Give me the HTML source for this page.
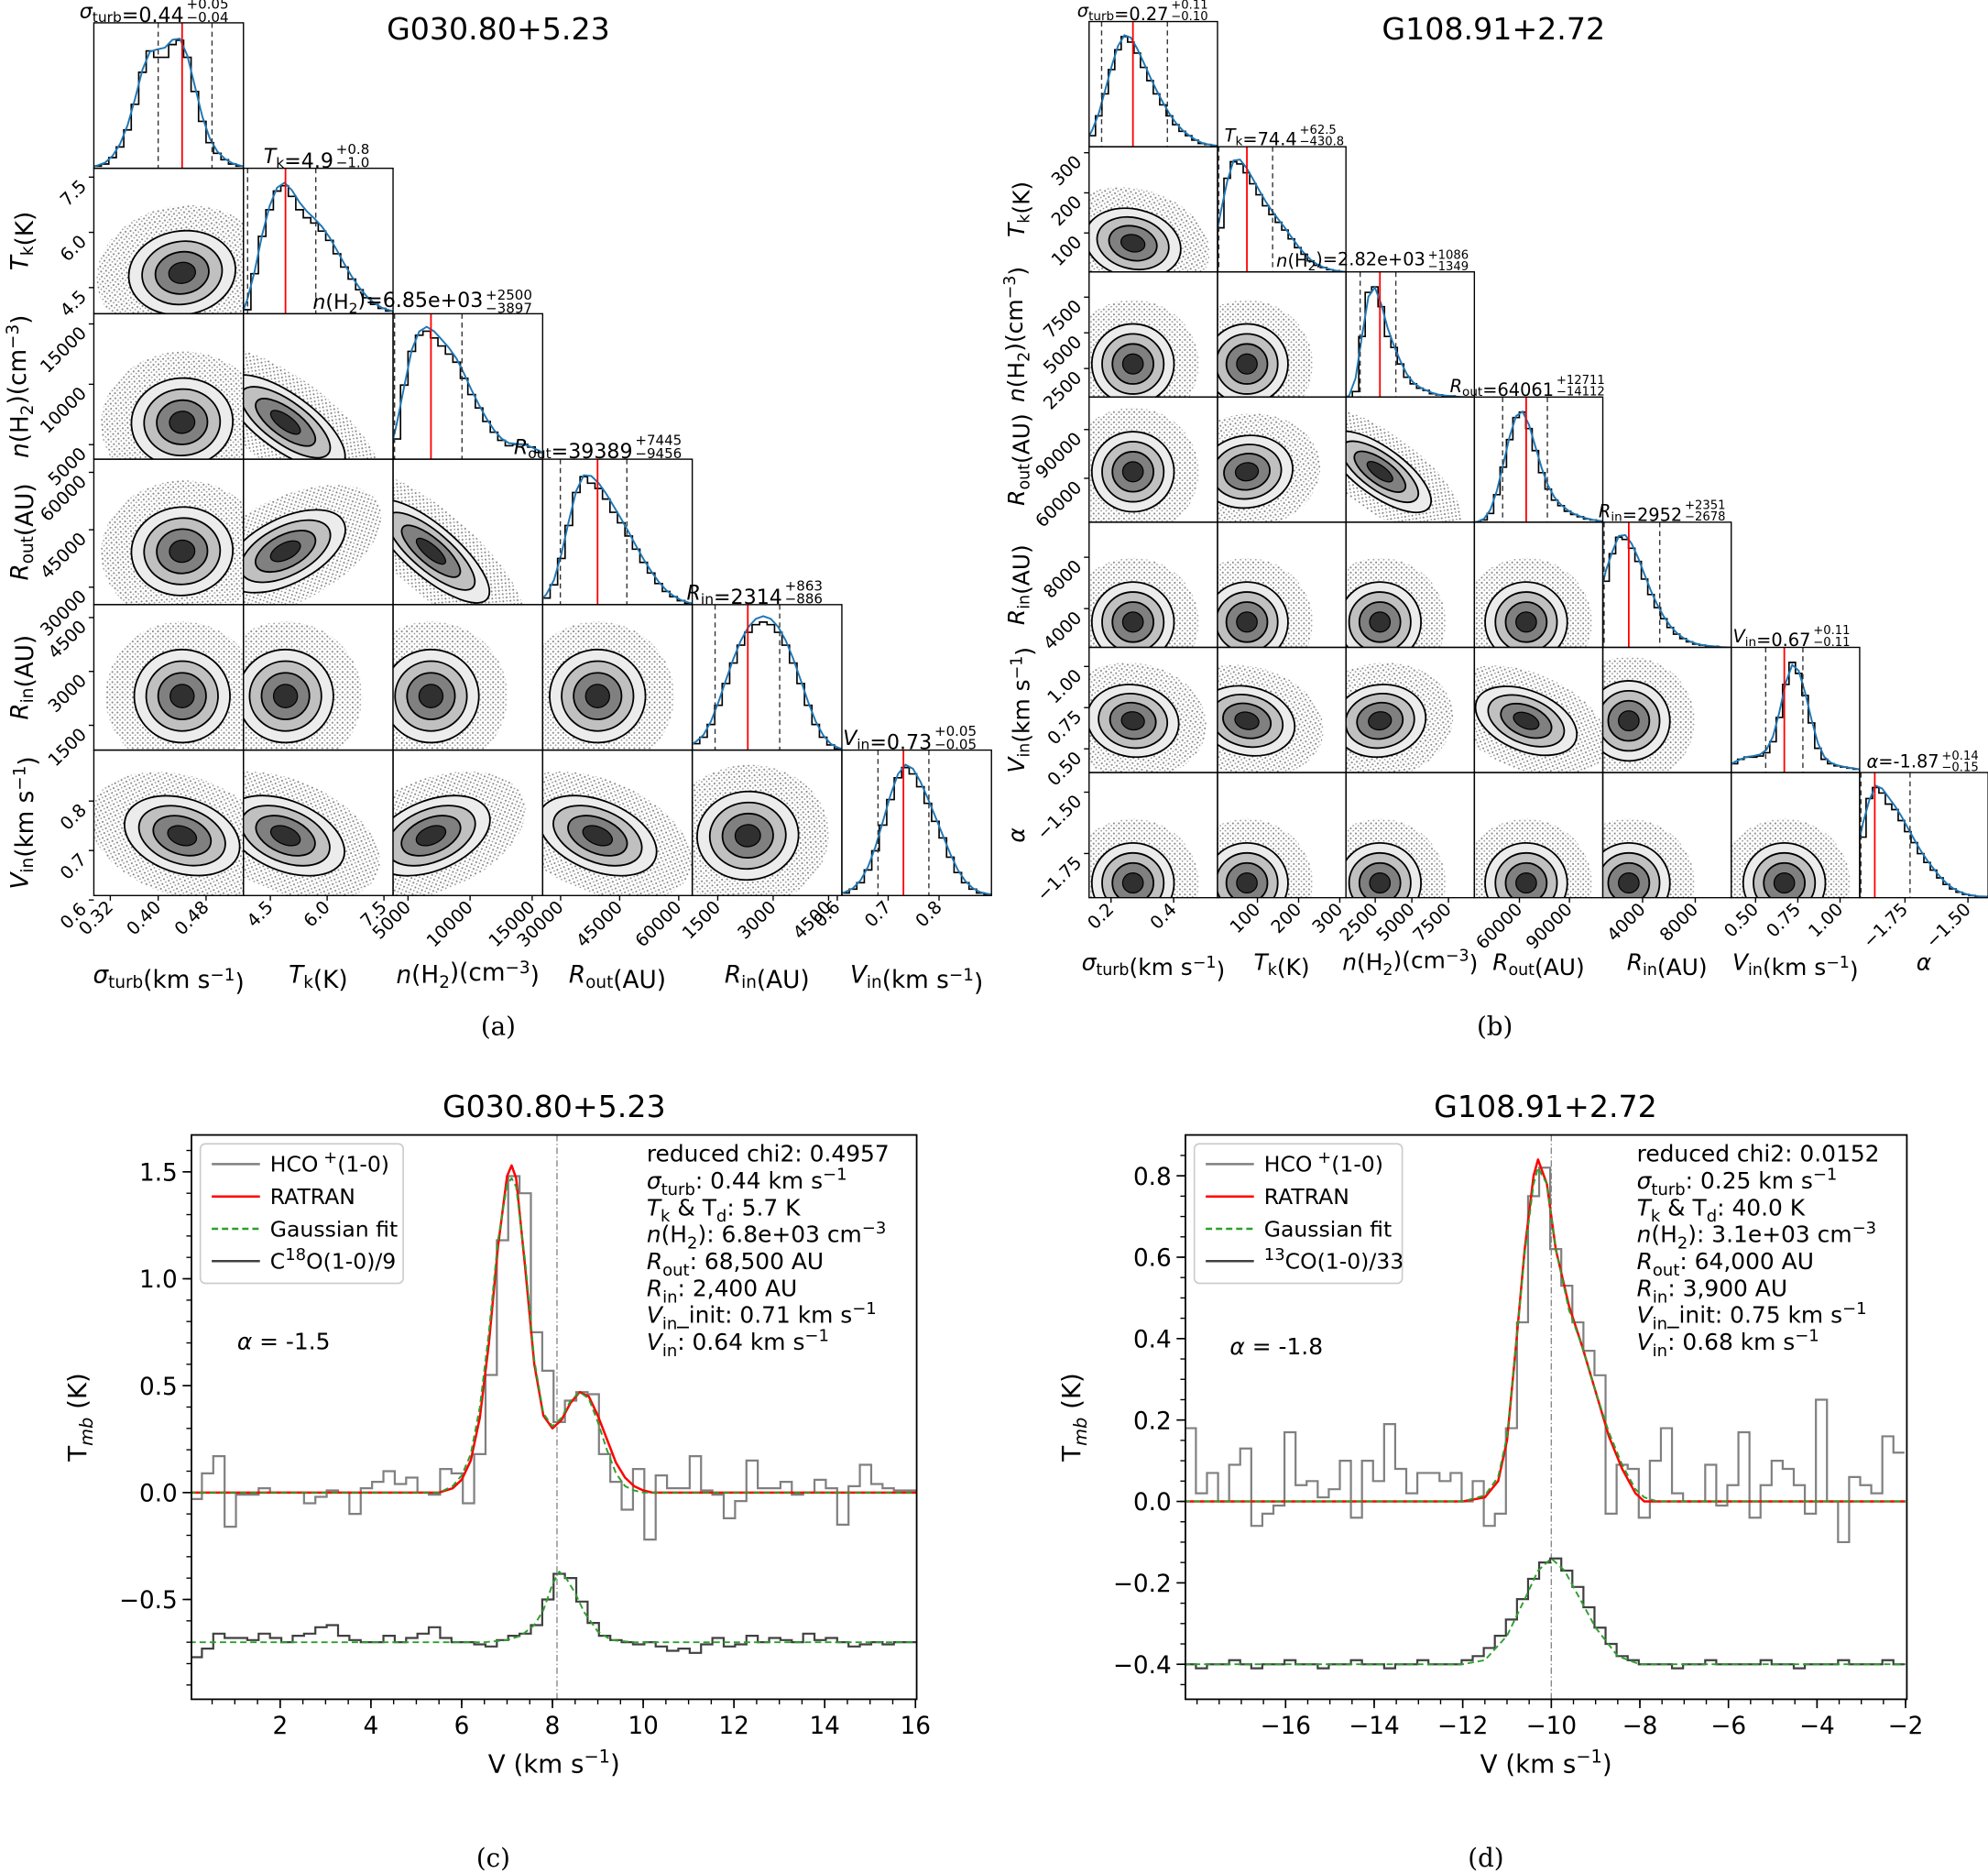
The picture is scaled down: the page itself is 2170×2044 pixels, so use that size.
<!DOCTYPE html>
<html><head><meta charset="utf-8"><title>Corner plots and spectra</title>
<style>
html,body{margin:0;padding:0;background:#fff}
svg{display:block}
text{font-family:"DejaVu Sans","Liberation Sans",sans-serif;fill:#000}
.serif{font-family:"DejaVu Serif","Liberation Serif",serif}
</style></head>
<body>
<svg id="fig" xmlns="http://www.w3.org/2000/svg" width="2170" height="2044" viewBox="0 0 1568 1477">
<defs>
<pattern id="dots" width="4" height="4" patternUnits="userSpaceOnUse"><circle cx="1" cy="1" r="0.75" fill="#333"/><circle cx="3" cy="2.8" r="0.65" fill="#555"/></pattern>
</defs>
<rect width="1568" height="1477" fill="#fff"/>
<text x="393" y="31" font-size="24" text-anchor="middle">G030.80+5.23</text>
<text x="1178" y="31" font-size="24" text-anchor="middle">G108.91+2.72</text>
<text x="393" y="816" font-size="20" text-anchor="middle" class="serif">(a)</text>
<text x="1179" y="816" font-size="20" text-anchor="middle" class="serif">(b)</text>
<text x="389" y="1472" font-size="20" text-anchor="middle" class="serif">(c)</text>
<text x="1172" y="1472" font-size="20" text-anchor="middle" class="serif">(d)</text>
<text x="437" y="881" font-size="24" text-anchor="middle">G030.80+5.23</text>
<text x="1219" y="881" font-size="24" text-anchor="middle">G108.91+2.72</text>
</svg>
<script>
const NS='http://www.w3.org/2000/svg';
const svg=document.getElementById('fig');
function mk(tag,attrs,parent){const e=document.createElementNS(NS,tag);for(const k in attrs)e.setAttribute(k,attrs[k]);(parent||svg).appendChild(e);return e;}

/* ---------------- CORNER DATA (a) ---------------- */
const aModes=[0.44,4.9,6850,39389,2314,0.73];
const aPlus=[0.05,0.8,2500,7445,863,0.05];
const aMinus=[0.04,1.0,3897,9456,886,0.05];
const aLo=[0.2925,3.79,3795,25440,810,0.609];
const aSpan=[0.25,3.95,12050,38000,4050,0.294];
const aHist=[
[1,2,5,10,18,30,45,55,52,52,58,60,52,36,22,12,7,4,2,1],
[3,30,58,78,92,96,88,78,72,68,62,55,45,35,26,18,12,7,4,2],
[15,55,80,92,95,90,84,78,72,60,48,38,28,20,14,10,11,11,9,5],
[5,15,35,60,85,97,92,88,80,70,62,52,42,32,24,16,10,6,3,1],
[5,10,20,35,52,68,82,92,98,100,98,92,82,68,52,35,20,10,4,1],
[2,5,10,20,35,55,75,92,100,95,85,72,58,45,30,18,10,5,2,1]];
const aCorr=[[],[0.2],[0.1,-0.8],[0.1,0.6,-0.9],[0,0,0,0],[-0.4,-0.5,0.5,-0.5,0.1]];
const aTicks=[[0.32,0.40,0.48],[4.5,6.0,7.5],[5000,10000,15000],[30000,45000,60000],[1500,3000,4500],[0.6,0.7,0.8]];
const aTickLabels=[["0.32","0.40","0.48"],["4.5","6.0","7.5"],["5000","10000","15000"],["30000","45000","60000"],["1500","3000","4500"],["0.6","0.7","0.8"]];
const aTitleNum=["0.44","4.9","6.85e+03","39389","2314","0.73"];
const aPlusTxt=["+0.05","+0.8","+2500","+7445","+863","+0.05"];
const aMinusTxt=["−0.04","−1.0","−3897","−9456","−886","−0.05"];

/* ---------------- CORNER DATA (b) ---------------- */
const bModes=[0.27,74.4,2820,64061,2952,0.67,-1.87];
const bPlus=[0.11,62.5,1086,12711,2351,0.11,0.14];
const bMinus=[0.10,430.8,1349,14112,2678,0.11,0.15];
const bLo=[0.13,3,500,33000,980,0.356,-1.93];
const bSpan=[0.41,312,8770,77000,9750,0.76,0.51];
const bHist=[
[10,28,48,70,88,100,95,85,72,60,48,38,28,20,14,10,6,3,2,1],
[40,85,100,98,90,80,70,60,52,45,38,30,22,16,10,6,4,2,1,0],
[0,5,55,95,100,82,55,45,30,18,12,8,6,3,2,1,1,0,0,0],
[0,2,8,25,50,75,95,100,85,65,45,30,20,15,10,7,5,3,2,1],
[60,85,100,98,90,78,62,48,36,26,18,12,8,5,3,2,1,1,0,0],
[8,12,14,14,15,18,28,50,80,100,90,70,45,22,12,8,6,5,4,3],
[55,90,100,95,85,80,70,60,50,40,32,25,18,12,8,5,3,2,1,1]];
const bCorr=[[],[-0.3],[0,0],[0,0.2,-0.8],[0,0,0,0],[-0.2,-0.3,0.2,-0.5,0],[0,0,0,0,0,0]];
const bTicks=[[0.2,0.4],[100,200,300],[2500,5000,7500],[60000,90000],[4000,8000],[0.50,0.75,1.00],[-1.75,-1.50]];
const bTickLabels=[["0.2","0.4"],["100","200","300"],["2500","5000","7500"],["60000","90000"],["4000","8000"],["0.50","0.75","1.00"],["−1.75","−1.50"]];
const bTitleNum=["0.27","74.4","2.82e+03","64061","2952","0.67","-1.87"];
const bPlusTxt=["+0.11","+62.5","+1086","+12711","+2351","+0.11","+0.14"];
const bMinusTxt=["−0.10","−430.8","−1349","−14112","−2678","−0.11","−0.15"];

const symA=[["σ","turb","","","(km s","−1",")"],["T","k","","","(K)","",""],["n","","","(H<tspan font-size='0.7em' dy='0.3em'>2</tspan><tspan dy='-0.3em'>)</tspan>","(cm","−3",")"],["R","out","","","(AU)","",""],["R","in","","","(AU)","",""],["V","in","","","(km s","−1",")"]];
const symB=symA.concat([["α","","","","","",""]]);

function symHtml(s){
  let h="<tspan font-style='italic'>"+s[0]+"</tspan>";
  if(s[1]) h+="<tspan font-size='0.7em' dy='0.3em'>"+s[1]+"</tspan><tspan dy='-0.3em'>"+s[3]+"</tspan>";
  else h+="<tspan>"+s[3]+"</tspan>";
  return h;
}

function corner(id,x0,y0,cw,ch,modes,plus,minus,lo,span,hist,corr,ticks,tickLabels,titleNum,plusTxt,minusTxt,syms,titleFs,tickFs,axFs,xTitleY,yTitleX){
  const n=modes.length;
  const g=mk('g',{});
  
  
  const fx=(k,v)=>(v-lo[k])/span[k];
  for(let i=0;i<n;i++){
    for(let j=0;j<=i;j++){
      const cx0=x0+j*cw, cy0=y0+i*ch;
      const cell=mk('g',{},g);
      
      
      const cpId=id+'-clip-'+i+'-'+j;
      const cp=mk('clipPath',{id:cpId},cell);
      mk('rect',{x:cx0,y:cy0,width:cw,height:ch},cp);
      const inner=mk('g',{'clip-path':'url(#'+cpId+')'},cell);
      if(i===j){
        const h=hist[i], m=Math.max(...h), bw=cw/h.length;
        const yv=v=>cy0+ch-(v/m)*0.88*ch;
        let d='M'+cx0+','+(cy0+ch);
        h.forEach((v,k)=>{d+=' L'+(cx0+k*bw)+','+yv(v)+' L'+(cx0+(k+1)*bw)+','+yv(v);});
        d+=' L'+(cx0+cw)+','+(cy0+ch);
        const hp=mk('path',{d:d,fill:'none',stroke:'#000','stroke-width':1.2},inner);
        
        
        let pts=[];
        for(let k=0;k<h.length;k++){
          const a=h[Math.max(0,k-1)],b=h[k],c=h[Math.min(h.length-1,k+1)];
          pts.push((cx0+(k+0.5)*bw)+','+(cy0+ch-((a+2*b+c)/4/m)*0.93*ch));
        }
        pts.unshift(cx0+','+(cy0+ch-(h[0]/m)*0.85*ch));
        pts.push((cx0+cw)+','+(cy0+ch-(h[h.length-1]/m)*0.85*ch));
        const kde=mk('polyline',{points:pts.join(' '),fill:'none',stroke:'#1f77b4','stroke-width':1.4},inner);
        
        
        const xm=cx0+fx(i,modes[i])*cw;
        const rl=mk('line',{x1:xm,x2:xm,y1:cy0,y2:cy0+ch,stroke:'#f00','stroke-width':1.3},inner);
        
        
        [modes[i]-minus[i],modes[i]+plus[i]].forEach(v=>{
          const xq=cx0+Math.max(0.01,Math.min(0.99,fx(i,v)))*cw;
          const ql=mk('line',{x1:xq,x2:xq,y1:cy0,y2:cy0+ch,stroke:'#333','stroke-width':1,'stroke-dasharray':'4,3'},inner);
          
          
        });
        const tx=cx0+cw/2+12, ty=cy0-4;
        const t1=mk('text',{x:tx,y:ty,'font-size':titleFs,'text-anchor':'end'},g);
        t1.innerHTML=symHtml(syms[i])+"<tspan>="+titleNum[i]+"</tspan>";
        
        
        const t2=mk('text',{x:tx+2,y:ty-titleFs*0.45,'font-size':titleFs*0.68},g);
        t2.textContent=plusTxt[i];
        
        
        const t3=mk('text',{x:tx+2,y:ty+titleFs*0.2,'font-size':titleFs*0.68},g);
        t3.textContent=minusTxt[i];
        
        
      } else {
        const c=corr[i][j];
        const ex=cx0+fx(j,modes[j])*cw, ey=cy0+(1-fx(i,modes[i]))*ch;
        const rx=0.32*cw*(1+Math.abs(c)*0.6), ry=0.32*ch*(1-Math.abs(c)*0.5);
        const ang=-c*45;
        const eg=mk('g',{transform:'translate('+ex+','+ey+') rotate('+ang+')'},inner);
        const halo=mk('ellipse',{cx:0,cy:0,rx:rx*1.6,ry:ry*1.6,fill:'url(#dots)',opacity:0.6},eg);
        
        
        [[1,'#ececec'],[0.75,'#c0c0c0'],[0.5,'#808080'],[0.25,'#303030']].forEach(([s,f],k)=>{
          const e=mk('ellipse',{cx:0,cy:0,rx:rx*s,ry:ry*s,fill:f,stroke:'#000','stroke-width':k===3?0.9:1.3},eg);
          
          
        });
      }
      const fr=mk('rect',{x:cx0,y:cy0,width:cw,height:ch,fill:'none',stroke:'#000','stroke-width':1},cell);
      
      
      if(i===n-1){
        ticks[j].forEach((v,k)=>{
          const xt=cx0+fx(j,v)*cw, yb=cy0+ch;
          mk('line',{x1:xt,x2:xt,y1:yb,y2:yb+4,stroke:'#000'},g);
          const tl=mk('text',{x:xt+3,y:yb+10,'font-size':tickFs,'text-anchor':'end',transform:'rotate(-45 '+(xt+3)+' '+(yb+10)+')'},g);
          tl.textContent=tickLabels[j][k];
          
          
        });
      }
      if(j===0 && i>0){
        ticks[i].forEach((v,k)=>{
          const yt=cy0+(1-fx(i,v))*ch;
          mk('line',{x1:cx0-4,x2:cx0,y1:yt,y2:yt,stroke:'#000'},g);
          const tl=mk('text',{x:cx0-5,y:yt+8,'font-size':tickFs,'text-anchor':'end',transform:'rotate(-45 '+(cx0-5)+' '+(yt+8)+')'},g);
          tl.textContent=tickLabels[i][k];
          
          
        });
      }
    }
    const s=syms[i];
    const unit=s[4]?("<tspan>"+s[4]+"</tspan>"+(s[5]?"<tspan font-size='0.7em' dy='-0.45em'>"+s[5]+"</tspan><tspan dy='0.45em'>"+s[6]+"</tspan>":"")):"";
    const xt=mk('text',{x:x0+(i+0.5)*cw,y:xTitleY,'font-size':axFs,'text-anchor':'middle'},g);
    xt.innerHTML=symHtml(s)+unit;
    
    
    if(i>0){
      const yc=y0+(i+0.5)*ch;
      const yt=mk('text',{x:yTitleX,y:yc,'font-size':axFs,'text-anchor':'middle',transform:'rotate(-90 '+yTitleX+' '+yc+')'},g);
      yt.innerHTML=symHtml(s)+unit;
      
      
    }
  }
}
corner('corner-a',74,18,118,114.7,aModes,aPlus,aMinus,aLo,aSpan,aHist,aCorr,aTicks,aTickLabels,aTitleNum,aPlusTxt,aMinusTxt,symA,16,14,19,775,22);
corner('corner-b',859,17,101.3,98.7,bModes,bPlus,bMinus,bLo,bSpan,bHist,bCorr,bTicks,bTickLabels,bTitleNum,bPlusTxt,bMinusTxt,symB,14,14,18,765,808);

/* ---------------- SPECTRA DATA ---------------- */
const cV0=0.15, cDv=0.25;
const cHco=[-0.03,0.09,0.17,-0.16,-0.01,-0.01,0.02,0.00,0.00,0.00,-0.05,-0.02,0.01,0.00,-0.10,0.02,0.05,0.10,0.04,0.07,0.00,-0.01,0.11,0.09,-0.05,0.18,0.55,1.18,1.48,1.40,0.75,0.57,0.33,0.43,0.47,0.46,0.18,0.05,-0.08,0.11,-0.22,0.08,0.02,0.02,0.17,0.01,-0.01,-0.12,-0.04,0.15,0.02,0.02,0.05,-0.01,0.00,0.06,0.02,-0.15,0.03,0.13,0.04,0.02,0.01,0.01];
const cC18o=[-0.77,-0.73,-0.66,-0.68,-0.68,-0.69,-0.66,-0.68,-0.70,-0.67,-0.66,-0.63,-0.62,-0.67,-0.69,-0.70,-0.70,-0.67,-0.70,-0.68,-0.66,-0.63,-0.68,-0.70,-0.70,-0.71,-0.72,-0.69,-0.67,-0.66,-0.62,-0.50,-0.38,-0.40,-0.51,-0.61,-0.67,-0.69,-0.70,-0.71,-0.70,-0.72,-0.74,-0.73,-0.75,-0.71,-0.68,-0.72,-0.71,-0.67,-0.70,-0.68,-0.69,-0.70,-0.66,-0.69,-0.68,-0.70,-0.72,-0.71,-0.70,-0.71,-0.70,-0.70];
const cModelV=[0,5.5,5.8,6.0,6.2,6.4,6.6,6.8,7.0,7.1,7.2,7.4,7.6,7.8,8.0,8.2,8.4,8.6,8.8,9.0,9.2,9.4,9.6,9.8,10.0,10.2,16.1];
const cRatran=[0,0,0.02,0.06,0.15,0.35,0.70,1.15,1.48,1.53,1.47,1.05,0.60,0.36,0.30,0.34,0.42,0.47,0.45,0.36,0.25,0.14,0.07,0.03,0.01,0,0];
const cGaussHco=[0,0,0.03,0.08,0.18,0.40,0.75,1.18,1.44,1.47,1.43,1.08,0.62,0.37,0.31,0.35,0.43,0.47,0.44,0.33,0.20,0.09,0.03,0.01,0,0,0];
const cGaussCV=[0,6.5,7.0,7.3,7.6,7.8,8.0,8.15,8.3,8.5,8.7,9.0,9.3,9.8,16.1];
const cGaussC=[-0.7,-0.7,-0.69,-0.67,-0.62,-0.55,-0.43,-0.37,-0.40,-0.47,-0.56,-0.65,-0.69,-0.7,-0.7];

const dV0=-18.15, dDv=0.25;
const dHco=[0.18,0.02,0.07,0.00,0.09,0.13,-0.06,-0.03,-0.01,0.17,0.04,0.05,0.01,0.03,0.10,-0.04,0.10,0.05,0.19,0.08,0.02,0.07,0.07,0.05,0.07,0.00,0.05,-0.06,-0.03,0.18,0.44,0.75,0.82,0.62,0.53,0.44,0.37,0.31,-0.03,0.09,0.08,-0.04,0.10,0.18,0.02,0.00,0.00,0.09,-0.01,0.04,0.17,-0.04,0.04,0.10,0.08,0.04,-0.03,0.25,0.00,-0.10,0.06,0.04,0.02,0.16,0.12];
const d13co=[-0.40,-0.41,-0.40,-0.40,-0.39,-0.40,-0.41,-0.40,-0.40,-0.39,-0.40,-0.40,-0.41,-0.40,-0.40,-0.39,-0.40,-0.40,-0.41,-0.40,-0.40,-0.39,-0.40,-0.40,-0.40,-0.39,-0.38,-0.36,-0.33,-0.29,-0.24,-0.19,-0.15,-0.14,-0.17,-0.21,-0.26,-0.31,-0.35,-0.38,-0.39,-0.40,-0.40,-0.40,-0.41,-0.40,-0.40,-0.39,-0.40,-0.40,-0.40,-0.40,-0.39,-0.40,-0.40,-0.41,-0.40,-0.40,-0.40,-0.39,-0.40,-0.40,-0.40,-0.39,-0.40];
const dModelV=[-18.3,-12.0,-11.5,-11.2,-11.0,-10.8,-10.6,-10.4,-10.3,-10.1,-9.9,-9.6,-9.3,-9.0,-8.7,-8.4,-8.1,-7.9,-7.6,-2.0];
const dRatran=[0,0,0.01,0.05,0.15,0.38,0.62,0.80,0.84,0.78,0.62,0.48,0.38,0.27,0.16,0.08,0.02,0.0,0,0];
const dGaussHco=[0,0,0.015,0.06,0.16,0.38,0.61,0.78,0.82,0.78,0.62,0.47,0.38,0.27,0.17,0.09,0.03,0.01,0,0];
const dGaussCV=[-18.3,-12.0,-11.5,-11.0,-10.6,-10.3,-10.0,-9.7,-9.4,-9.0,-8.5,-8.0,-2.0];
const dGaussC=[-0.40,-0.40,-0.39,-0.33,-0.24,-0.17,-0.14,-0.17,-0.23,-0.31,-0.38,-0.40,-0.40];

function spectrum(id,box,xAt,yAt,xMaj,xMin,yMaj,yMin,fmtX,fmtY,v0,dv,hco,ref,modelV,ratran,gHco,gV,gRef,vline,legendRef,info,alphaTxt,alphaPos,infoX,labX){
  const g=mk('g',{});
  
  
  const [L,T,R,B]=box;
  const cp=mk('clipPath',{id:id+'-clip'},g);
  mk('rect',{x:L,y:T,width:R-L,height:B-T},cp);
  const pg=mk('g',{'clip-path':'url(#'+id+'-clip)'},g);
  const step=(arr,col,name)=>{
    let d='';
    arr.forEach((v,k)=>{const xa=xAt(v0+k*dv-dv/2), xb=xAt(v0+k*dv+dv/2), y=yAt(v);d+=(k?' L':'M')+xa+','+y+' L'+xb+','+y;});
    const p=mk('path',{d:d,fill:'none',stroke:col,'stroke-width':1.6},pg);
    
    
  };
  const line=(xs,ys,col,dash,name,w)=>{
    const p=mk('polyline',{points:xs.map((x,k)=>xAt(x)+','+yAt(ys[k])).join(' '),fill:'none',stroke:col,'stroke-width':w,'stroke-dasharray':dash,'stroke-linejoin':'round'},pg);
    
    
  };
  const vl=mk('line',{x1:xAt(vline),x2:xAt(vline),y1:T,y2:B,stroke:'#888','stroke-width':1,'stroke-dasharray':'5,2,1,2'},pg);
  
  
  step(hco,'#808080','hco-spectrum');
  step(ref,'#404040','reference-spectrum');
  line(modelV,ratran,'#ff0000','none','ratran-model',1.8);
  line(modelV,gHco,'#2ca02c','5,3','gaussian-fit-hco',1.4);
  line(gV,gRef,'#2ca02c','5,3','gaussian-fit-reference',1.4);
  const fr=mk('rect',{x:L,y:T,width:R-L,height:B-T,fill:'none',stroke:'#000','stroke-width':1.3},g);
  
  
  xMin.forEach(v=>{const x=xAt(v);if(x>=L&&x<=R)mk('line',{x1:x,x2:x,y1:B,y2:B+4,stroke:'#000'},g);});
  yMin.forEach(v=>{const y=yAt(v);if(y>=T&&y<=B)mk('line',{x1:L-4,x2:L,y1:y,y2:y,stroke:'#000'},g);});
  xMaj.forEach(v=>{const x=xAt(v);mk('line',{x1:x,x2:x,y1:B,y2:B+7,stroke:'#000','stroke-width':1.2},g);
    const t=mk('text',{x:x,y:B+27,'font-size':19,'text-anchor':'middle'},g);t.textContent=fmtX(v);
    
    });
  yMaj.forEach(v=>{const y=yAt(v);mk('line',{x1:L-7,x2:L,y1:y,y2:y,stroke:'#000','stroke-width':1.2},g);
    const t=mk('text',{x:L-11,y:y+7,'font-size':19,'text-anchor':'end'},g);t.textContent=fmtY(v);
    
    });
  const xl=mk('text',{x:(L+R)/2,y:B+58,'font-size':20,'text-anchor':'middle'},g);
  xl.innerHTML="V (km s<tspan font-size='14' dy='-8'>−1</tspan><tspan dy='8'>)</tspan>";
  
  
  const yc=(T+B)/2;
  const yl=mk('text',{x:labX,y:yc,'font-size':20,'text-anchor':'middle',transform:'rotate(-90 '+labX+' '+yc+')'},g);
  yl.innerHTML="T<tspan font-size='14' dy='5' font-style='italic'>mb</tspan><tspan dy='-5'> (K)</tspan>";
  
  
  const lg=mk('g',{},g);
  
  
  const lw=legendRef.w;
  mk('rect',{x:L+7,y:T+7,width:lw,height:110,rx:4,fill:'#fff',stroke:'#ccc','stroke-width':1.2},lg);
  const ent=[['#808080','none',"HCO<tspan font-size='13' dy='-7'> +</tspan><tspan dy='7'>(1-0)</tspan>"],['#ff0000','none','RATRAN'],['#2ca02c','5,3','Gaussian fit'],['#404040','none',legendRef.label]];
  ent.forEach((e,k)=>{
    const y=T+23+k*25.5;
    const ln=mk('line',{x1:L+16,x2:L+54,y1:y,y2:y,stroke:e[0],'stroke-width':1.8,'stroke-dasharray':e[1]},lg);
    
    
    const t=mk('text',{x:L+62,y:y+6,'font-size':17},lg);
    t.innerHTML=e[2];
    
    
  });
  info.forEach((s,k)=>{
    const t=mk('text',{x:infoX,y:T+21+k*21.2,'font-size':18},g);
    t.innerHTML=s;
    
    
  });
  const at=mk('text',{x:alphaPos[0],y:alphaPos[1],'font-size':18},g);
  at.innerHTML="<tspan font-style='italic'>α</tspan> = "+alphaTxt;
  
  
}
const sub=(a)=>"<tspan font-size='13' dy='5'>"+a+"</tspan><tspan dy='-5'>";
const sup=(a)=>"<tspan font-size='13' dy='-7'>"+a+"</tspan><tspan dy='7'>";
function rng(a,b,s){const r=[];for(let v=a;v<=b+1e-9;v+=s)r.push(+v.toFixed(4));return r;}

const cInfo=["reduced chi2: 0.4957",
"<tspan font-style='italic'>σ</tspan>"+sub("turb")+": 0.44 km s</tspan>"+sup("−1")+"</tspan>",
"<tspan font-style='italic'>T</tspan>"+sub("k")+" &amp; T</tspan>"+sub("d")+": 5.7 K</tspan>",
"<tspan font-style='italic'>n</tspan>(H"+sub("2")+"): 6.8e+03 cm</tspan>"+sup("−3")+"</tspan>",
"<tspan font-style='italic'>R</tspan>"+sub("out")+": 68,500 AU</tspan>",
"<tspan font-style='italic'>R</tspan>"+sub("in")+": 2,400 AU</tspan>",
"<tspan font-style='italic'>V</tspan>"+sub("in")+"_init: 0.71 km s</tspan>"+sup("−1")+"</tspan>",
"<tspan font-style='italic'>V</tspan>"+sub("in")+": 0.64 km s</tspan>"+sup("−1")+"</tspan>"];
const dInfo=["reduced chi2: 0.0152",
"<tspan font-style='italic'>σ</tspan>"+sub("turb")+": 0.25 km s</tspan>"+sup("−1")+"</tspan>",
"<tspan font-style='italic'>T</tspan>"+sub("k")+" &amp; T</tspan>"+sub("d")+": 40.0 K</tspan>",
"<tspan font-style='italic'>n</tspan>(H"+sub("2")+"): 3.1e+03 cm</tspan>"+sup("−3")+"</tspan>",
"<tspan font-style='italic'>R</tspan>"+sub("out")+": 64,000 AU</tspan>",
"<tspan font-style='italic'>R</tspan>"+sub("in")+": 3,900 AU</tspan>",
"<tspan font-style='italic'>V</tspan>"+sub("in")+"_init: 0.75 km s</tspan>"+sup("−1")+"</tspan>",
"<tspan font-style='italic'>V</tspan>"+sub("in")+": 0.68 km s</tspan>"+sup("−1")+"</tspan>"];

spectrum('spectrum-c',[151,895,723,1340],v=>149.4+v*35.79,t=>1177-t*168.6,
  rng(2,16,2),rng(0.5,16,0.5),[-0.5,0,0.5,1.0,1.5],rng(-0.9,1.6,0.1),
  v=>String(v),t=>(t<0?'−':'')+Math.abs(t).toFixed(1),
  cV0,cDv,cHco,cC18o,cModelV,cRatran,cGaussHco,cGaussCV,cGaussC,8.1,
  {w:160,label:"C"+sup("18")+"O(1-0)/9</tspan>"},cInfo,'-1.5',[187,1064],510,68);
spectrum('spectrum-d',[935,895,1504,1340],v=>1014+(v+16)*34.93,t=>1184-t*321,
  rng(-16,-2,2),rng(-18,-2,0.5),[-0.4,-0.2,0,0.2,0.4,0.6,0.8],rng(-0.5,0.85,0.05),
  v=>'−'+Math.abs(v),t=>(t<0?'−':'')+Math.abs(t).toFixed(1),
  dV0,dDv,dHco,d13co,dModelV,dRatran,dGaussHco,dGaussCV,dGaussC,-10,
  {w:164,label:sup("13")+"CO(1-0)/33</tspan>"},dInfo,'-1.8',[970,1068],1291,852);
</script>
</body></html>
